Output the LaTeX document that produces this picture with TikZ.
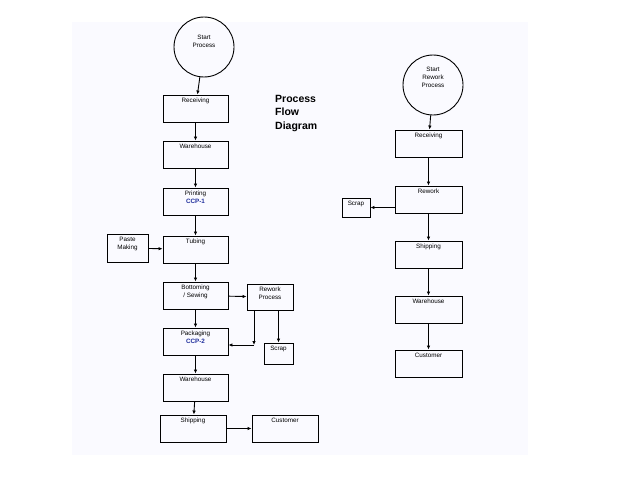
\documentclass[tikz,border=0pt]{standalone}
\usepackage{fontspec}
\setmainfont{Liberation Sans}
\usetikzlibrary{arrows.meta}
\definecolor{ccpblue}{HTML}{1F2E9C}
\tikzset{
  box/.style={draw, line width=0.9pt, minimum width=65pt, minimum height=27pt, inner sep=0pt},
  txt/.style={anchor=north, inner sep=3pt, align=center, font=\fontsize{6.3}{8}\selectfont},
  flow/.style={-{Latex[length=4pt,width=3.5pt]}, line width=0.9pt}
}
\begin{document}
\begin{tikzpicture}[x=1pt,y=-1pt]
			% Rahmen
			\useasboundingbox (0,0) rectangle (638,479);
			\fill[white] (0,0) rectangle (638,479);
			\fill[blue!2] (72,22) rectangle (528,455);
			
			% linke Spalte
			\node[draw, circle, line width=0.9pt, minimum size=60pt, inner sep=0pt] (start) at (204,47) {};
			\node[txt] at (204,32) {Start\\Process};
			\node[box] (rec) at (195.5,108.5) {};
			\node[txt] at (rec.north) {Receiving};
			\node[box] (wh) at (195.5,154.5) {};
			\node[txt] at (wh.north) {Warehouse};
			\node[box] (print) at (195.5,201.5) {};
			\node[txt] at (print.north) {Printing\\\textcolor{ccpblue}{\bfseries CCP-1}};
			\node[box] (tub) at (195.5,249.5) {};
			\node[txt] at (tub.north) {Tubing};
			\node[box, minimum width=41pt, minimum height=28pt] (paste) at (127.5,248) {};
			\node[txt] at (paste.north) {Paste\\Making};
			\node[box] (bot) at (195.5,295.5) {};
			\node[txt] at (bot.north) {Bottoming\\/ Sewing};
			\node[box, minimum width=46pt, minimum height=26pt] (rew) at (270,297) {};
			\node[txt] at (rew.north) {Rework\\Process};
			\node[box] (pack) at (195.5,341.5) {};
			\node[txt] at (pack.north) {Packaging\\\textcolor{ccpblue}{\bfseries CCP-2}};
			\node[box, minimum width=29pt, minimum height=21pt] (scrapL) at (278.5,353.5) {};
			\node[txt] at (scrapL.north) {Scrap};
			\node[box] (wh2) at (195.5,387.5) {};
			\node[txt] at (wh2.north) {Warehouse};
			\node[box, minimum width=66pt] (ship) at (193,428.5) {};
			\node[txt] at (ship.north) {Shipping};
			\node[box, minimum width=66pt] (cust) at (285,428.5) {};
			\node[txt] at (cust.north) {Customer};
			\coordinate (knick) at (254,345);
			
			% Pfeile links
			\draw[flow] (start) -- (rec);
			\draw[flow] (rec) -- (wh);
			\draw[flow] (wh) -- (print);
			\draw[flow] (print) -- (tub);
			\draw[flow] (paste) -- (tub);
			\draw[flow] (tub) -- (bot);
			\draw[flow] (bot) -- (rew);
			\draw[flow] (bot) -- (pack);
			\draw[flow] (rew.south -| knick) -- (knick);
			\draw[flow] (knick) -- (knick -| pack.east);
			\draw[flow] (rew.south -| scrapL) -- (scrapL);
			\draw[flow] (pack) -- (wh2);
			\draw[flow] (wh2) -- (ship);
			\draw[flow] (ship) -- (cust);
			
			% Titel
			\node[anchor=north west, align=left, inner sep=0pt, font=\fontsize{10.5}{13.5}\selectfont\bfseries] (title) at (275,95) {Process\\Flow\\Diagram};
			
			% rechte Spalte
			\node[draw, circle, line width=0.9pt, minimum size=60pt, inner sep=0pt] (rstart) at (433,85) {};
			\node[txt] at (433,64) {Start\\Rework\\Process};
			\node[box, minimum width=67pt] (rrec) at (428.5,143.5) {};
			\node[txt] at (rrec.north) {Receiving};
			\node[box, minimum width=67pt] (rrew) at (428.5,199.5) {};
			\node[txt] at (rrew.north) {Rework};
			\node[box, minimum width=28pt, minimum height=19pt] (rscrap) at (356,207.5) {};
			\node[txt] at (rscrap.north) {Scrap};
			\node[box, minimum width=67pt] (rship) at (428.5,254.5) {};
			\node[txt] at (rship.north) {Shipping};
			\node[box, minimum width=67pt] (rwh) at (428.5,309.5) {};
			\node[txt] at (rwh.north) {Warehouse};
			\node[box, minimum width=67pt] (rcust) at (428.5,363.5) {};
			\node[txt] at (rcust.north) {Customer};
			
			% Pfeile rechts
			\draw[flow] (rstart) -- (rrec);
			\draw[flow] (rrec) -- (rrew);
			\draw[flow] (rrew.west |- rscrap) -- (rscrap);
			\draw[flow] (rrew) -- (rship);
			\draw[flow] (rship) -- (rwh);
			\draw[flow] (rwh) -- (rcust);
\end{tikzpicture}
\end{document}
